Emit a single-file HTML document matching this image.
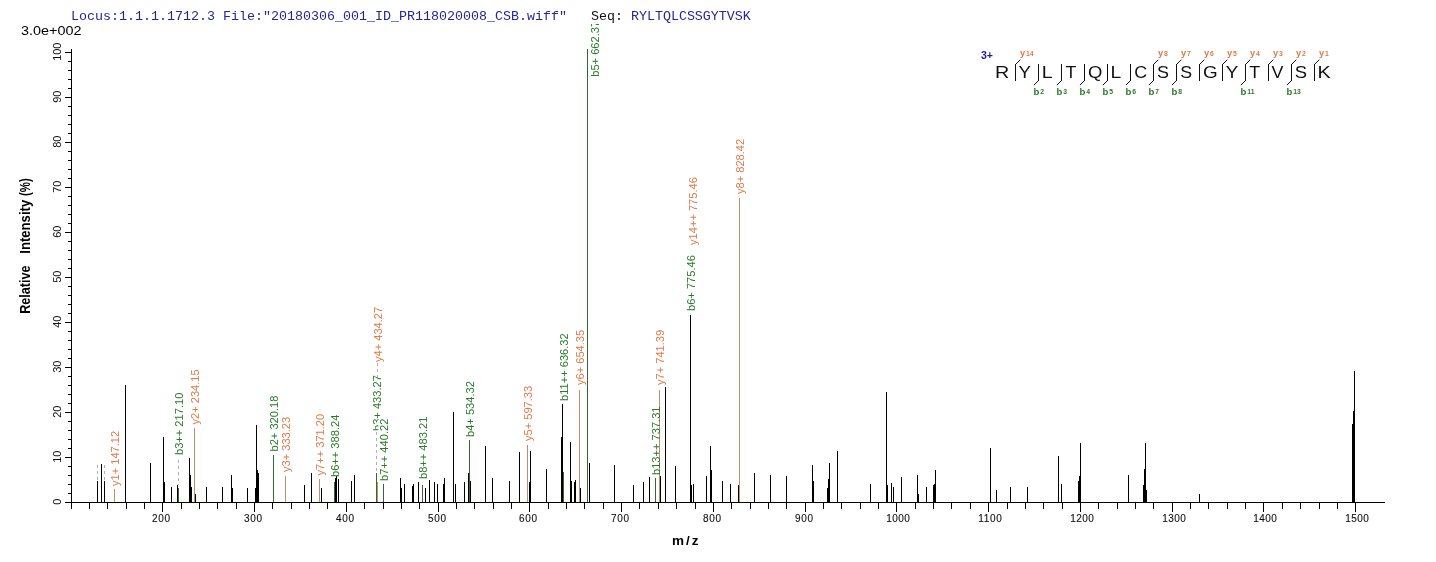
<!DOCTYPE html><html><head><meta charset="utf-8"><style>html,body{margin:0;padding:0;background:#fff;width:1436px;height:562px;overflow:hidden;position:relative}text{font-family:"Liberation Sans",sans-serif}</style></head><body><svg width="1436" height="562" viewBox="0 0 1436 562" style="position:absolute;left:0;top:0"><rect width="100%" height="100%" fill="#fff"/><rect x="97" y="481" width="1" height="22" fill="#000"/><rect x="101" y="464" width="1" height="39" fill="#000"/><rect x="104" y="481" width="1" height="22" fill="#000"/><rect x="114" y="489" width="1" height="14" fill="#c98a68"/><rect x="125" y="385" width="1" height="118" fill="#000"/><rect x="150" y="463" width="1" height="40" fill="#000"/><rect x="163" y="437" width="1" height="66" fill="#000"/><rect x="164" y="482" width="1" height="21" fill="#000"/><rect x="171" y="487" width="1" height="16" fill="#000"/><rect x="177" y="485" width="1" height="18" fill="#000"/><rect x="178" y="488" width="1" height="15" fill="#2f6a30"/><rect x="189" y="458" width="1" height="45" fill="#000"/><rect x="190" y="475" width="1" height="28" fill="#000"/><rect x="191" y="487" width="1" height="16" fill="#000"/><rect x="194" y="428" width="1" height="75" fill="#c98a68"/><rect x="195" y="494" width="1" height="9" fill="#000"/><rect x="206" y="487" width="1" height="16" fill="#000"/><rect x="222" y="487" width="1" height="16" fill="#000"/><rect x="231" y="475" width="1" height="28" fill="#000"/><rect x="232" y="488" width="1" height="15" fill="#000"/><rect x="247" y="488" width="1" height="15" fill="#000"/><rect x="255" y="488" width="1" height="15" fill="#000"/><rect x="256" y="425" width="1" height="78" fill="#000"/><rect x="257" y="470" width="1" height="33" fill="#000"/><rect x="258" y="473" width="1" height="30" fill="#000"/><rect x="273" y="455" width="1" height="48" fill="#2f6a30"/><rect x="285" y="476" width="1" height="27" fill="#c98a68"/><rect x="304" y="485" width="1" height="18" fill="#000"/><rect x="311" y="473" width="1" height="30" fill="#000"/><rect x="319" y="479" width="1" height="24" fill="#c98a68"/><rect x="321" y="488" width="1" height="15" fill="#000"/><rect x="334" y="482" width="1" height="21" fill="#2f6a30"/><rect x="335" y="478" width="1" height="25" fill="#000"/><rect x="336" y="476" width="1" height="27" fill="#000"/><rect x="338" y="479" width="1" height="24" fill="#000"/><rect x="351" y="481" width="1" height="22" fill="#000"/><rect x="354" y="475" width="1" height="28" fill="#000"/><rect x="377" y="482" width="1" height="21" fill="#c98a68"/><rect x="376" y="473" width="1" height="30" fill="#2f6a30"/><rect x="383" y="484" width="1" height="19" fill="#2f6a30"/><rect x="400" y="478" width="1" height="25" fill="#000"/><rect x="401" y="488" width="1" height="15" fill="#000"/><rect x="404" y="484" width="1" height="19" fill="#000"/><rect x="412" y="486" width="1" height="17" fill="#000"/><rect x="413" y="484" width="1" height="19" fill="#000"/><rect x="418" y="482" width="1" height="21" fill="#000"/><rect x="422" y="485" width="1" height="18" fill="#2f6a30"/><rect x="425" y="488" width="1" height="15" fill="#000"/><rect x="429" y="480" width="1" height="23" fill="#000"/><rect x="434" y="482" width="1" height="21" fill="#000"/><rect x="437" y="484" width="1" height="19" fill="#000"/><rect x="443" y="484" width="1" height="19" fill="#000"/><rect x="444" y="478" width="1" height="25" fill="#000"/><rect x="453" y="412" width="1" height="91" fill="#000"/><rect x="455" y="484" width="1" height="19" fill="#000"/><rect x="464" y="482" width="1" height="21" fill="#000"/><rect x="468" y="473" width="1" height="30" fill="#000"/><rect x="469" y="440" width="1" height="63" fill="#2f6a30"/><rect x="470" y="481" width="1" height="22" fill="#000"/><rect x="485" y="446" width="1" height="57" fill="#000"/><rect x="492" y="478" width="1" height="25" fill="#000"/><rect x="509" y="481" width="1" height="22" fill="#000"/><rect x="519" y="452" width="1" height="51" fill="#000"/><rect x="527" y="445" width="1" height="58" fill="#c98a68"/><rect x="529" y="482" width="1" height="21" fill="#000"/><rect x="530" y="451" width="1" height="52" fill="#000"/><rect x="546" y="469" width="1" height="34" fill="#000"/><rect x="561" y="437" width="1" height="66" fill="#000"/><rect x="562" y="404" width="1" height="99" fill="#000"/><rect x="563" y="472" width="1" height="31" fill="#2f6a30"/><rect x="570" y="442" width="1" height="61" fill="#000"/><rect x="571" y="481" width="1" height="22" fill="#000"/><rect x="574" y="482" width="1" height="21" fill="#000"/><rect x="575" y="480" width="1" height="23" fill="#000"/><rect x="579" y="390" width="1" height="113" fill="#c98a68"/><rect x="580" y="488" width="1" height="15" fill="#000"/><rect x="587" y="49" width="1" height="454" fill="#2f6a30"/><rect x="589" y="463" width="1" height="40" fill="#000"/><rect x="614" y="465" width="1" height="38" fill="#000"/><rect x="633" y="485" width="1" height="18" fill="#000"/><rect x="643" y="482" width="1" height="21" fill="#000"/><rect x="649" y="477" width="1" height="26" fill="#000"/><rect x="655" y="478" width="1" height="25" fill="#2f6a30"/><rect x="659" y="390" width="1" height="113" fill="#c98a68"/><rect x="660" y="476" width="1" height="27" fill="#000"/><rect x="665" y="387" width="1" height="116" fill="#000"/><rect x="675" y="466" width="1" height="37" fill="#000"/><rect x="690" y="315" width="1" height="188" fill="#000"/><rect x="691" y="485" width="1" height="18" fill="#000"/><rect x="693" y="484" width="1" height="19" fill="#000"/><rect x="706" y="476" width="1" height="27" fill="#000"/><rect x="710" y="446" width="1" height="57" fill="#000"/><rect x="711" y="470" width="1" height="33" fill="#000"/><rect x="722" y="481" width="1" height="22" fill="#000"/><rect x="730" y="484" width="1" height="19" fill="#000"/><rect x="738" y="485" width="1" height="18" fill="#000"/><rect x="739" y="198" width="1" height="305" fill="#c98a68"/><rect x="754" y="473" width="1" height="30" fill="#000"/><rect x="770" y="475" width="1" height="28" fill="#000"/><rect x="786" y="476" width="1" height="27" fill="#000"/><rect x="812" y="465" width="1" height="38" fill="#000"/><rect x="813" y="481" width="1" height="22" fill="#000"/><rect x="827" y="488" width="1" height="15" fill="#000"/><rect x="828" y="479" width="1" height="24" fill="#000"/><rect x="829" y="463" width="1" height="40" fill="#000"/><rect x="837" y="451" width="1" height="52" fill="#000"/><rect x="870" y="484" width="1" height="19" fill="#000"/><rect x="886" y="392" width="1" height="111" fill="#000"/><rect x="887" y="485" width="1" height="18" fill="#000"/><rect x="891" y="483" width="1" height="20" fill="#000"/><rect x="893" y="487" width="1" height="16" fill="#000"/><rect x="901" y="477" width="1" height="26" fill="#000"/><rect x="917" y="475" width="1" height="28" fill="#000"/><rect x="918" y="494" width="1" height="9" fill="#000"/><rect x="926" y="487" width="1" height="16" fill="#000"/><rect x="933" y="485" width="1" height="18" fill="#000"/><rect x="934" y="484" width="1" height="19" fill="#000"/><rect x="935" y="470" width="1" height="33" fill="#000"/><rect x="990" y="448" width="1" height="55" fill="#000"/><rect x="996" y="490" width="1" height="13" fill="#000"/><rect x="1010" y="487" width="1" height="16" fill="#000"/><rect x="1027" y="487" width="1" height="16" fill="#000"/><rect x="1058" y="456" width="1" height="47" fill="#000"/><rect x="1061" y="484" width="1" height="19" fill="#000"/><rect x="1078" y="481" width="1" height="22" fill="#000"/><rect x="1079" y="476" width="1" height="27" fill="#000"/><rect x="1080" y="443" width="1" height="60" fill="#000"/><rect x="1128" y="475" width="1" height="28" fill="#000"/><rect x="1143" y="485" width="1" height="18" fill="#000"/><rect x="1144" y="469" width="1" height="34" fill="#000"/><rect x="1145" y="443" width="1" height="60" fill="#000"/><rect x="1146" y="490" width="1" height="13" fill="#000"/><rect x="1199" y="494" width="1" height="9" fill="#000"/><rect x="1352" y="424" width="1" height="79" fill="#000"/><rect x="1353" y="411" width="1" height="92" fill="#000"/><rect x="1354" y="371" width="1" height="132" fill="#000"/><rect x="97" y="465" width="1" height="3" fill="#b0b0b0"/><rect x="97" y="471" width="1" height="3" fill="#b0b0b0"/><rect x="97" y="477" width="1" height="3" fill="#b0b0b0"/><rect x="104" y="465" width="1" height="3" fill="#b0b0b0"/><rect x="104" y="471" width="1" height="3" fill="#b0b0b0"/><rect x="104" y="477" width="1" height="3" fill="#b0b0b0"/><rect x="178" y="460" width="1" height="3" fill="#b0b0b0"/><rect x="178" y="466" width="1" height="3" fill="#b0b0b0"/><rect x="178" y="472" width="1" height="3" fill="#b0b0b0"/><rect x="178" y="478" width="1" height="3" fill="#b0b0b0"/><rect x="178" y="484" width="1" height="1" fill="#b0b0b0"/><rect x="377" y="363" width="1" height="3" fill="#b0b0b0"/><rect x="377" y="369" width="1" height="3" fill="#b0b0b0"/><rect x="377" y="375" width="1" height="3" fill="#b0b0b0"/><rect x="376" y="432" width="1" height="3" fill="#b0b0b0"/><rect x="376" y="438" width="1" height="3" fill="#b0b0b0"/><rect x="376" y="444" width="1" height="3" fill="#b0b0b0"/><rect x="376" y="450" width="1" height="3" fill="#b0b0b0"/><rect x="376" y="456" width="1" height="3" fill="#b0b0b0"/><rect x="376" y="462" width="1" height="3" fill="#b0b0b0"/><rect x="376" y="468" width="1" height="3" fill="#b0b0b0"/><rect x="71" y="49" width="1" height="454" fill="#000"/><rect x="65" y="502" width="1320" height="1" fill="#000"/><rect x="65" y="502" width="6" height="1" fill="#000"/><rect x="68" y="493" width="3" height="1" fill="#000"/><rect x="68" y="484" width="3" height="1" fill="#000"/><rect x="68" y="475" width="3" height="1" fill="#000"/><rect x="68" y="466" width="3" height="1" fill="#000"/><rect x="65" y="457" width="6" height="1" fill="#000"/><rect x="68" y="448" width="3" height="1" fill="#000"/><rect x="68" y="439" width="3" height="1" fill="#000"/><rect x="68" y="430" width="3" height="1" fill="#000"/><rect x="68" y="421" width="3" height="1" fill="#000"/><rect x="65" y="412" width="6" height="1" fill="#000"/><rect x="68" y="403" width="3" height="1" fill="#000"/><rect x="68" y="394" width="3" height="1" fill="#000"/><rect x="68" y="385" width="3" height="1" fill="#000"/><rect x="68" y="376" width="3" height="1" fill="#000"/><rect x="65" y="367" width="6" height="1" fill="#000"/><rect x="68" y="358" width="3" height="1" fill="#000"/><rect x="68" y="349" width="3" height="1" fill="#000"/><rect x="68" y="340" width="3" height="1" fill="#000"/><rect x="68" y="331" width="3" height="1" fill="#000"/><rect x="65" y="322" width="6" height="1" fill="#000"/><rect x="68" y="313" width="3" height="1" fill="#000"/><rect x="68" y="304" width="3" height="1" fill="#000"/><rect x="68" y="295" width="3" height="1" fill="#000"/><rect x="68" y="286" width="3" height="1" fill="#000"/><rect x="65" y="277" width="6" height="1" fill="#000"/><rect x="68" y="268" width="3" height="1" fill="#000"/><rect x="68" y="259" width="3" height="1" fill="#000"/><rect x="68" y="250" width="3" height="1" fill="#000"/><rect x="68" y="241" width="3" height="1" fill="#000"/><rect x="65" y="232" width="6" height="1" fill="#000"/><rect x="68" y="223" width="3" height="1" fill="#000"/><rect x="68" y="214" width="3" height="1" fill="#000"/><rect x="68" y="205" width="3" height="1" fill="#000"/><rect x="68" y="196" width="3" height="1" fill="#000"/><rect x="65" y="187" width="6" height="1" fill="#000"/><rect x="68" y="178" width="3" height="1" fill="#000"/><rect x="68" y="169" width="3" height="1" fill="#000"/><rect x="68" y="160" width="3" height="1" fill="#000"/><rect x="68" y="151" width="3" height="1" fill="#000"/><rect x="65" y="142" width="6" height="1" fill="#000"/><rect x="68" y="133" width="3" height="1" fill="#000"/><rect x="68" y="124" width="3" height="1" fill="#000"/><rect x="68" y="115" width="3" height="1" fill="#000"/><rect x="68" y="106" width="3" height="1" fill="#000"/><rect x="65" y="97" width="6" height="1" fill="#000"/><rect x="68" y="88" width="3" height="1" fill="#000"/><rect x="68" y="79" width="3" height="1" fill="#000"/><rect x="68" y="70" width="3" height="1" fill="#000"/><rect x="68" y="61" width="3" height="1" fill="#000"/><rect x="65" y="52" width="6" height="1" fill="#000"/><rect x="71" y="503" width="1" height="6" fill="#000"/><rect x="89" y="503" width="1" height="6" fill="#000"/><rect x="107" y="503" width="1" height="6" fill="#000"/><rect x="126" y="503" width="1" height="6" fill="#000"/><rect x="144" y="503" width="1" height="6" fill="#000"/><rect x="162" y="503" width="1" height="9" fill="#000"/><rect x="181" y="503" width="1" height="6" fill="#000"/><rect x="199" y="503" width="1" height="6" fill="#000"/><rect x="217" y="503" width="1" height="6" fill="#000"/><rect x="236" y="503" width="1" height="6" fill="#000"/><rect x="254" y="503" width="1" height="9" fill="#000"/><rect x="272" y="503" width="1" height="6" fill="#000"/><rect x="291" y="503" width="1" height="6" fill="#000"/><rect x="309" y="503" width="1" height="6" fill="#000"/><rect x="327" y="503" width="1" height="6" fill="#000"/><rect x="346" y="503" width="1" height="9" fill="#000"/><rect x="364" y="503" width="1" height="6" fill="#000"/><rect x="383" y="503" width="1" height="6" fill="#000"/><rect x="401" y="503" width="1" height="6" fill="#000"/><rect x="419" y="503" width="1" height="6" fill="#000"/><rect x="438" y="503" width="1" height="9" fill="#000"/><rect x="456" y="503" width="1" height="6" fill="#000"/><rect x="474" y="503" width="1" height="6" fill="#000"/><rect x="493" y="503" width="1" height="6" fill="#000"/><rect x="511" y="503" width="1" height="6" fill="#000"/><rect x="529" y="503" width="1" height="9" fill="#000"/><rect x="548" y="503" width="1" height="6" fill="#000"/><rect x="566" y="503" width="1" height="6" fill="#000"/><rect x="584" y="503" width="1" height="6" fill="#000"/><rect x="603" y="503" width="1" height="6" fill="#000"/><rect x="621" y="503" width="1" height="9" fill="#000"/><rect x="639" y="503" width="1" height="6" fill="#000"/><rect x="658" y="503" width="1" height="6" fill="#000"/><rect x="676" y="503" width="1" height="6" fill="#000"/><rect x="695" y="503" width="1" height="6" fill="#000"/><rect x="713" y="503" width="1" height="9" fill="#000"/><rect x="731" y="503" width="1" height="6" fill="#000"/><rect x="750" y="503" width="1" height="6" fill="#000"/><rect x="768" y="503" width="1" height="6" fill="#000"/><rect x="786" y="503" width="1" height="6" fill="#000"/><rect x="805" y="503" width="1" height="9" fill="#000"/><rect x="823" y="503" width="1" height="6" fill="#000"/><rect x="841" y="503" width="1" height="6" fill="#000"/><rect x="860" y="503" width="1" height="6" fill="#000"/><rect x="878" y="503" width="1" height="6" fill="#000"/><rect x="896" y="503" width="1" height="9" fill="#000"/><rect x="915" y="503" width="1" height="6" fill="#000"/><rect x="933" y="503" width="1" height="6" fill="#000"/><rect x="951" y="503" width="1" height="6" fill="#000"/><rect x="970" y="503" width="1" height="6" fill="#000"/><rect x="988" y="503" width="1" height="9" fill="#000"/><rect x="1007" y="503" width="1" height="6" fill="#000"/><rect x="1025" y="503" width="1" height="6" fill="#000"/><rect x="1043" y="503" width="1" height="6" fill="#000"/><rect x="1062" y="503" width="1" height="6" fill="#000"/><rect x="1080" y="503" width="1" height="9" fill="#000"/><rect x="1098" y="503" width="1" height="6" fill="#000"/><rect x="1117" y="503" width="1" height="6" fill="#000"/><rect x="1135" y="503" width="1" height="6" fill="#000"/><rect x="1153" y="503" width="1" height="6" fill="#000"/><rect x="1172" y="503" width="1" height="9" fill="#000"/><rect x="1190" y="503" width="1" height="6" fill="#000"/><rect x="1208" y="503" width="1" height="6" fill="#000"/><rect x="1227" y="503" width="1" height="6" fill="#000"/><rect x="1245" y="503" width="1" height="6" fill="#000"/><rect x="1263" y="503" width="1" height="9" fill="#000"/><rect x="1282" y="503" width="1" height="6" fill="#000"/><rect x="1300" y="503" width="1" height="6" fill="#000"/><rect x="1319" y="503" width="1" height="6" fill="#000"/><rect x="1337" y="503" width="1" height="6" fill="#000"/><rect x="1355" y="503" width="1" height="9" fill="#000"/></svg><svg width="1436" height="562" style="position:absolute;left:0;top:0;will-change:transform" font-family="Liberation Sans, sans-serif"><text x="152.1" y="522" font-size="10" textLength="18" lengthAdjust="spacing" fill="#111" stroke="#111" stroke-width="0.12">200</text><text x="244.1" y="522" font-size="10" textLength="18" lengthAdjust="spacing" fill="#111" stroke="#111" stroke-width="0.12">300</text><text x="336.1" y="522" font-size="10" textLength="18" lengthAdjust="spacing" fill="#111" stroke="#111" stroke-width="0.12">400</text><text x="428.1" y="522" font-size="10" textLength="18" lengthAdjust="spacing" fill="#111" stroke="#111" stroke-width="0.12">500</text><text x="519.1" y="522" font-size="10" textLength="18" lengthAdjust="spacing" fill="#111" stroke="#111" stroke-width="0.12">600</text><text x="611.1" y="522" font-size="10" textLength="18" lengthAdjust="spacing" fill="#111" stroke="#111" stroke-width="0.12">700</text><text x="703.1" y="522" font-size="10" textLength="18" lengthAdjust="spacing" fill="#111" stroke="#111" stroke-width="0.12">800</text><text x="795.1" y="522" font-size="10" textLength="18" lengthAdjust="spacing" fill="#111" stroke="#111" stroke-width="0.12">900</text><text x="886.3" y="522" font-size="10" textLength="23.6" lengthAdjust="spacing" fill="#111" stroke="#111" stroke-width="0.12">1000</text><text x="978.3" y="522" font-size="10" textLength="23.6" lengthAdjust="spacing" fill="#111" stroke="#111" stroke-width="0.12">1100</text><text x="1070.3" y="522" font-size="10" textLength="23.6" lengthAdjust="spacing" fill="#111" stroke="#111" stroke-width="0.12">1200</text><text x="1162.3" y="522" font-size="10" textLength="23.6" lengthAdjust="spacing" fill="#111" stroke="#111" stroke-width="0.12">1300</text><text x="1253.3" y="522" font-size="10" textLength="23.6" lengthAdjust="spacing" fill="#111" stroke="#111" stroke-width="0.12">1400</text><text x="1345.3" y="522" font-size="10" textLength="23.6" lengthAdjust="spacing" fill="#111" stroke="#111" stroke-width="0.12">1500</text><text transform="translate(60.8,501.7) rotate(-90)" font-size="11" text-anchor="middle" fill="#111">0</text><text transform="translate(60.8,456.7) rotate(-90)" font-size="11" text-anchor="middle" fill="#111">10</text><text transform="translate(60.8,411.7) rotate(-90)" font-size="11" text-anchor="middle" fill="#111">20</text><text transform="translate(60.8,366.7) rotate(-90)" font-size="11" text-anchor="middle" fill="#111">30</text><text transform="translate(60.8,321.7) rotate(-90)" font-size="11" text-anchor="middle" fill="#111">40</text><text transform="translate(60.8,276.7) rotate(-90)" font-size="11" text-anchor="middle" fill="#111">50</text><text transform="translate(60.8,231.7) rotate(-90)" font-size="11" text-anchor="middle" fill="#111">60</text><text transform="translate(60.8,186.7) rotate(-90)" font-size="11" text-anchor="middle" fill="#111">70</text><text transform="translate(60.8,141.7) rotate(-90)" font-size="11" text-anchor="middle" fill="#111">80</text><text transform="translate(60.8,96.69999999999999) rotate(-90)" font-size="11" text-anchor="middle" fill="#111">90</text><text transform="translate(60.8,51.69999999999999) rotate(-90)" font-size="11" text-anchor="middle" fill="#111">100</text><text transform="translate(118.6,486) rotate(-90)" font-size="10" textLength="55.2" lengthAdjust="spacingAndGlyphs" fill="#dc7b4b">y1+ 147.12</text><text transform="translate(182.6,455) rotate(-90)" font-size="10" textLength="62.3" lengthAdjust="spacingAndGlyphs" fill="#2a7a2a">b3++ 217.10</text><text transform="translate(198.6,424.5) rotate(-90)" font-size="10" textLength="55.2" lengthAdjust="spacingAndGlyphs" fill="#dc7b4b">y2+ 234.15</text><text transform="translate(277.6,451.5) rotate(-90)" font-size="10" textLength="55.9" lengthAdjust="spacingAndGlyphs" fill="#2a7a2a">b2+ 320.18</text><text transform="translate(289.6,472) rotate(-90)" font-size="10" textLength="55.2" lengthAdjust="spacingAndGlyphs" fill="#dc7b4b">y3+ 333.23</text><text transform="translate(323.6,475.5) rotate(-90)" font-size="10" textLength="61.7" lengthAdjust="spacingAndGlyphs" fill="#dc7b4b">y7++ 371.20</text><text transform="translate(338.6,477) rotate(-90)" font-size="10" textLength="62.3" lengthAdjust="spacingAndGlyphs" fill="#2a7a2a">b6++ 388.24</text><text transform="translate(380.6,431) rotate(-90)" font-size="10" textLength="55.9" lengthAdjust="spacingAndGlyphs" fill="#2a7a2a">b3+ 433.27</text><text transform="translate(381.6,362) rotate(-90)" font-size="10" textLength="55.2" lengthAdjust="spacingAndGlyphs" fill="#dc7b4b">y4+ 434.27</text><rect x="378.4" y="418.7" width="11.5" height="62.3" fill="#fff"/><text transform="translate(387.6,481) rotate(-90)" font-size="10" textLength="62.3" lengthAdjust="spacingAndGlyphs" fill="#2a7a2a">b7++ 440.22</text><text transform="translate(426.6,479) rotate(-90)" font-size="10" textLength="62.3" lengthAdjust="spacingAndGlyphs" fill="#2a7a2a">b8++ 483.21</text><text transform="translate(473.6,437) rotate(-90)" font-size="10" textLength="55.9" lengthAdjust="spacingAndGlyphs" fill="#2a7a2a">b4+ 534.32</text><text transform="translate(531.6,441) rotate(-90)" font-size="10" textLength="55.2" lengthAdjust="spacingAndGlyphs" fill="#dc7b4b">y5+ 597.33</text><text transform="translate(567.6,401) rotate(-90)" font-size="10" textLength="67.7" lengthAdjust="spacingAndGlyphs" fill="#2a7a2a">b11++ 636.32</text><text transform="translate(583.6,385) rotate(-90)" font-size="10" textLength="55.2" lengthAdjust="spacingAndGlyphs" fill="#dc7b4b">y6+ 654.35</text><text transform="translate(598.6,76.8) rotate(-90)" font-size="10" textLength="55.9" lengthAdjust="spacingAndGlyphs" fill="#2a7a2a">b5+ 662.37</text><text transform="translate(659.6,475) rotate(-90)" font-size="10" textLength="68.5" lengthAdjust="spacingAndGlyphs" fill="#2a7a2a">b13++ 737.31</text><text transform="translate(663.6,385) rotate(-90)" font-size="10" textLength="55.2" lengthAdjust="spacingAndGlyphs" fill="#dc7b4b">y7+ 741.39</text><text transform="translate(694.6,311) rotate(-90)" font-size="10" textLength="55.9" lengthAdjust="spacingAndGlyphs" fill="#2a7a2a">b6+ 775.46</text><text transform="translate(696.6,245) rotate(-90)" font-size="10" textLength="67.9" lengthAdjust="spacingAndGlyphs" fill="#dc7b4b">y14++ 775.46</text><text transform="translate(743.6,194) rotate(-90)" font-size="10" textLength="55.2" lengthAdjust="spacingAndGlyphs" fill="#dc7b4b">y8+ 828.42</text><rect x="586" y="0" width="20" height="24" fill="#fff"/><text x="672" y="545" font-size="13.5" font-weight="bold" textLength="26.5" lengthAdjust="spacing" fill="#000">m/z</text><text transform="translate(29.6,313.8) rotate(-90)" font-size="13.8" font-weight="bold" textLength="48.4" lengthAdjust="spacingAndGlyphs" fill="#000">Relative</text><text transform="translate(29.6,253.7) rotate(-90)" font-size="13.8" font-weight="bold" textLength="53.9" lengthAdjust="spacingAndGlyphs" fill="#000">Intensity</text><text transform="translate(29.6,196) rotate(-90)" font-size="13.8" font-weight="bold" textLength="17.8" lengthAdjust="spacingAndGlyphs" fill="#000">(%)</text><text x="21" y="35" font-size="13.3" textLength="60.5" lengthAdjust="spacingAndGlyphs" fill="#000">3.0e+002</text></svg><div style="position:absolute;left:71px;top:9px;font-family:'Liberation Mono',monospace;font-size:13.333px;line-height:16px;white-space:pre;color:#26269a">Locus:1.1.1.1712.3 File:"20180306_001_ID_PR118020008_CSB.wiff"   <span style="color:#111">Seq:</span> RYLTQLCSSGYTVSK</div><svg width="1436" height="562" style="position:absolute;left:0;top:0;will-change:transform" font-family="Liberation Sans, sans-serif"><text x="981" y="58.6" font-size="10.8" font-weight="bold" fill="#1e18a8" textLength="12" lengthAdjust="spacingAndGlyphs">3+</text><text transform="translate(995.08,78.1) scale(1.251,1)" font-size="15.8" fill="#111">R</text><text transform="translate(1018.59,78.1) scale(1.180,1)" font-size="15.8" fill="#111">Y</text><text transform="translate(1041.80,78.1) scale(1.237,1)" font-size="15.8" fill="#111">L</text><text transform="translate(1065.41,78.1) scale(1.120,1)" font-size="15.8" fill="#111">T</text><text transform="translate(1088.03,78.1) scale(1.169,1)" font-size="15.8" fill="#111">Q</text><text transform="translate(1110.52,78.1) scale(1.223,1)" font-size="15.8" fill="#111">L</text><text transform="translate(1134.19,78.1) scale(1.132,1)" font-size="15.8" fill="#111">C</text><text transform="translate(1157.07,78.1) scale(1.136,1)" font-size="15.8" fill="#111">S</text><text transform="translate(1180.18,78.1) scale(1.125,1)" font-size="15.8" fill="#111">S</text><text transform="translate(1203.06,78.1) scale(1.194,1)" font-size="15.8" fill="#111">G</text><text transform="translate(1225.69,78.1) scale(1.191,1)" font-size="15.8" fill="#111">Y</text><text transform="translate(1249.31,78.1) scale(1.131,1)" font-size="15.8" fill="#111">T</text><text transform="translate(1271.51,78.1) scale(1.129,1)" font-size="15.8" fill="#111">V</text><text transform="translate(1294.75,78.1) scale(1.169,1)" font-size="15.8" fill="#111">S</text><text transform="translate(1317.38,78.1) scale(1.250,1)" font-size="15.8" fill="#111">K</text><line x1="1015.5" y1="64" x2="1015.5" y2="81" stroke="#111" stroke-width="1"/><line x1="1015.5" y1="64.5" x2="1020.3" y2="59.7" stroke="#111" stroke-width="1"/><text x="1020" y="56" font-size="9.3" font-weight="bold" fill="#dc7b4b">y<tspan font-size="6.8" dx="0.8">14</tspan></text><line x1="1038.5" y1="64" x2="1038.5" y2="81" stroke="#111" stroke-width="1"/><line x1="1038.5" y1="80.5" x2="1033.9" y2="85.1" stroke="#111" stroke-width="1"/><text x="1033.6" y="95" font-size="9.6" font-weight="bold" fill="#2a7a2a">b<tspan font-size="6.8" dx="0.8" dy="-0.6">2</tspan></text><line x1="1061.5" y1="64" x2="1061.5" y2="81" stroke="#111" stroke-width="1"/><line x1="1061.5" y1="80.5" x2="1056.9" y2="85.1" stroke="#111" stroke-width="1"/><text x="1056.6" y="95" font-size="9.6" font-weight="bold" fill="#2a7a2a">b<tspan font-size="6.8" dx="0.8" dy="-0.6">3</tspan></text><line x1="1084.5" y1="64" x2="1084.5" y2="81" stroke="#111" stroke-width="1"/><line x1="1084.5" y1="80.5" x2="1079.9" y2="85.1" stroke="#111" stroke-width="1"/><text x="1079.6" y="95" font-size="9.6" font-weight="bold" fill="#2a7a2a">b<tspan font-size="6.8" dx="0.8" dy="-0.6">4</tspan></text><line x1="1107.5" y1="64" x2="1107.5" y2="81" stroke="#111" stroke-width="1"/><line x1="1107.5" y1="80.5" x2="1102.9" y2="85.1" stroke="#111" stroke-width="1"/><text x="1102.6" y="95" font-size="9.6" font-weight="bold" fill="#2a7a2a">b<tspan font-size="6.8" dx="0.8" dy="-0.6">5</tspan></text><line x1="1130.5" y1="64" x2="1130.5" y2="81" stroke="#111" stroke-width="1"/><line x1="1130.5" y1="80.5" x2="1125.9" y2="85.1" stroke="#111" stroke-width="1"/><text x="1125.6" y="95" font-size="9.6" font-weight="bold" fill="#2a7a2a">b<tspan font-size="6.8" dx="0.8" dy="-0.6">6</tspan></text><line x1="1153.5" y1="64" x2="1153.5" y2="81" stroke="#111" stroke-width="1"/><line x1="1153.5" y1="64.5" x2="1158.3" y2="59.7" stroke="#111" stroke-width="1"/><text x="1158" y="56" font-size="9.3" font-weight="bold" fill="#dc7b4b">y<tspan font-size="6.8" dx="0.8">8</tspan></text><line x1="1153.5" y1="80.5" x2="1148.9" y2="85.1" stroke="#111" stroke-width="1"/><text x="1148.6" y="95" font-size="9.6" font-weight="bold" fill="#2a7a2a">b<tspan font-size="6.8" dx="0.8" dy="-0.6">7</tspan></text><line x1="1176.5" y1="64" x2="1176.5" y2="81" stroke="#111" stroke-width="1"/><line x1="1176.5" y1="64.5" x2="1181.3" y2="59.7" stroke="#111" stroke-width="1"/><text x="1181" y="56" font-size="9.3" font-weight="bold" fill="#dc7b4b">y<tspan font-size="6.8" dx="0.8">7</tspan></text><line x1="1176.5" y1="80.5" x2="1171.9" y2="85.1" stroke="#111" stroke-width="1"/><text x="1171.6" y="95" font-size="9.6" font-weight="bold" fill="#2a7a2a">b<tspan font-size="6.8" dx="0.8" dy="-0.6">8</tspan></text><line x1="1199.5" y1="64" x2="1199.5" y2="81" stroke="#111" stroke-width="1"/><line x1="1199.5" y1="64.5" x2="1204.3" y2="59.7" stroke="#111" stroke-width="1"/><text x="1204" y="56" font-size="9.3" font-weight="bold" fill="#dc7b4b">y<tspan font-size="6.8" dx="0.8">6</tspan></text><line x1="1222.5" y1="64" x2="1222.5" y2="81" stroke="#111" stroke-width="1"/><line x1="1222.5" y1="64.5" x2="1227.3" y2="59.7" stroke="#111" stroke-width="1"/><text x="1227" y="56" font-size="9.3" font-weight="bold" fill="#dc7b4b">y<tspan font-size="6.8" dx="0.8">5</tspan></text><line x1="1245.5" y1="64" x2="1245.5" y2="81" stroke="#111" stroke-width="1"/><line x1="1245.5" y1="64.5" x2="1250.3" y2="59.7" stroke="#111" stroke-width="1"/><text x="1250" y="56" font-size="9.3" font-weight="bold" fill="#dc7b4b">y<tspan font-size="6.8" dx="0.8">4</tspan></text><line x1="1245.5" y1="80.5" x2="1240.9" y2="85.1" stroke="#111" stroke-width="1"/><text x="1240.6" y="95" font-size="9.6" font-weight="bold" fill="#2a7a2a">b<tspan font-size="6.8" dx="0.8" dy="-0.6">11</tspan></text><line x1="1268.5" y1="64" x2="1268.5" y2="81" stroke="#111" stroke-width="1"/><line x1="1268.5" y1="64.5" x2="1273.3" y2="59.7" stroke="#111" stroke-width="1"/><text x="1273" y="56" font-size="9.3" font-weight="bold" fill="#dc7b4b">y<tspan font-size="6.8" dx="0.8">3</tspan></text><line x1="1291.5" y1="64" x2="1291.5" y2="81" stroke="#111" stroke-width="1"/><line x1="1291.5" y1="64.5" x2="1296.3" y2="59.7" stroke="#111" stroke-width="1"/><text x="1296" y="56" font-size="9.3" font-weight="bold" fill="#dc7b4b">y<tspan font-size="6.8" dx="0.8">2</tspan></text><line x1="1291.5" y1="80.5" x2="1286.9" y2="85.1" stroke="#111" stroke-width="1"/><text x="1286.6" y="95" font-size="9.6" font-weight="bold" fill="#2a7a2a">b<tspan font-size="6.8" dx="0.8" dy="-0.6">13</tspan></text><line x1="1314.5" y1="64" x2="1314.5" y2="81" stroke="#111" stroke-width="1"/><line x1="1314.5" y1="64.5" x2="1319.3" y2="59.7" stroke="#111" stroke-width="1"/><text x="1319" y="56" font-size="9.3" font-weight="bold" fill="#dc7b4b">y<tspan font-size="6.8" dx="0.8">1</tspan></text></svg></body></html>
